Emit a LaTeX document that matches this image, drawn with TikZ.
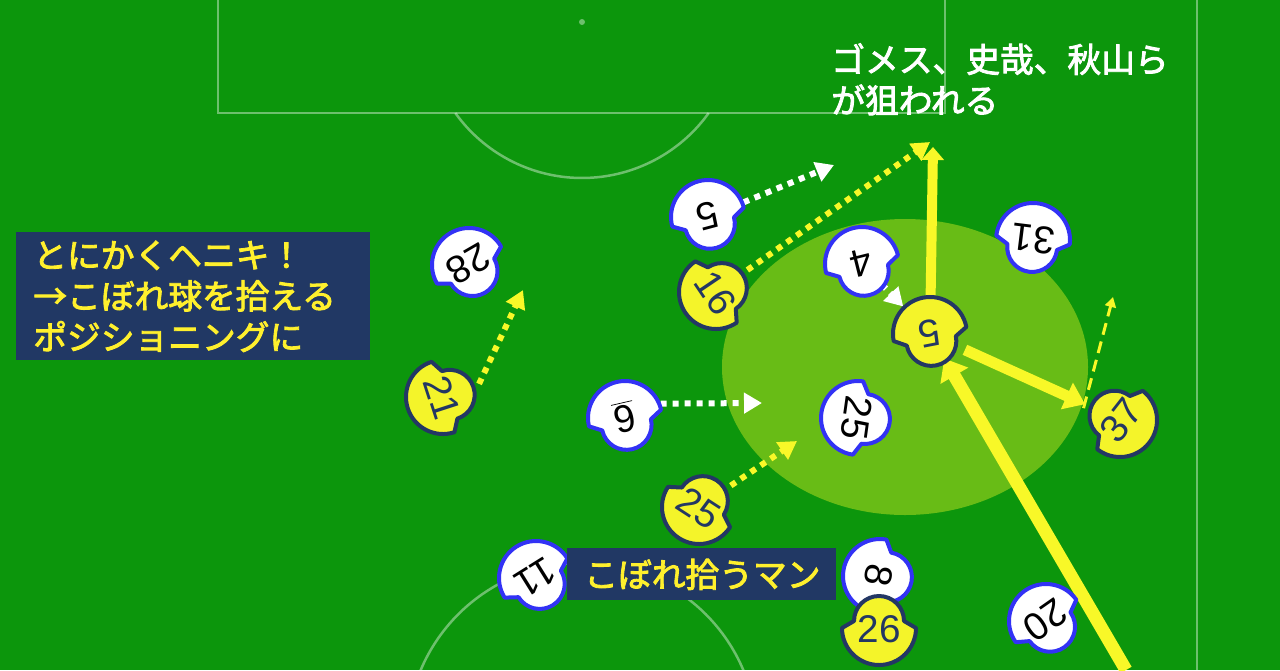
\documentclass[tikz,border=0pt]{standalone}
\usepackage{fontspec}
\setmainfont{Liberation Sans}
\newfontfamily\jpfont[FakeBold=2.6]{Noto Sans CJK JP}
\usetikzlibrary{arrows.meta}
\usetikzlibrary{positioning}

\definecolor{grass}{RGB}{12,150,12}
\definecolor{zone}{RGB}{104,188,22}
\definecolor{navybox}{RGB}{33,56,100}
\definecolor{markyellow}{RGB}{244,244,42}
\definecolor{arrowyellow}{RGB}{248,248,40}
\definecolor{textyellow}{RGB}{255,240,45}
\definecolor{teamblue}{RGB}{50,50,245}
\definecolor{teamnavy}{RGB}{35,55,100}

\begin{document}
\begin{tikzpicture}[x=0.02cm,y=0.02cm,>={Triangle[length=0.36cm,width=0.4cm]},
			font=\jpfont]
			\tikzstyle{spot}=[circle,minimum size=1.52cm,inner sep=0pt]
			\tikzstyle{pitchline}=[draw=white,draw opacity=0.4,line width=0.05cm]
			\tikzstyle{run}=[->,line width=0.12cm,dash pattern=on 0.12cm off 0.12cm]
			\tikzstyle{pass}=[->,arrowyellow,line width=0.2cm,>={Triangle[length=0.26cm,width=0.44cm]}]
			\tikzstyle{bigpass}=[->,arrowyellow,line width=0.26cm,>={Triangle[length=0.4cm,width=0.62cm]}]
			\tikzstyle{feint}=[->,arrowyellow,line width=0.06cm,dash pattern=on 0.24cm off 0.14cm,>={Triangle[length=0.2cm,width=0.22cm]}]
			\tikzstyle{yelteam}=[fill=markyellow,draw=teamnavy]
			\tikzstyle{yelteam num}=[text=teamnavy]
			\tikzstyle{whiteteam}=[fill=white,draw=teamblue]
			\tikzstyle{whiteteam num}=[text=black]
			\tikzstyle{notebox}=[fill=navybox,text=textyellow,inner xsep=0.34cm,inner ysep=0pt,align=left,
			font=\jpfont\fontsize{19.2}{23.3}\selectfont]
			\tikzset{pics/player/.style n args={3}{code={
						\begin{scope}[rotate=#2]
							\filldraw[#1,line width=0.08cm,line join=round]
							(-37,0) -- (-25,7) arc[start angle=180,end angle=0,radius=25]
							-- (37,0) arc[start angle=0,end angle=-180,radius=37] -- cycle;
							\node[#1 num,transform shape,inner sep=0pt,font=\rmfamily\fontsize{22}{26}\selectfont] at (0,-1) {#3};
						\end{scope}
			}}}
			
			% pitch
			\fill[grass] (0,-670) rectangle (1280,0);
			\useasboundingbox (0,-670) rectangle (1280,0);
			\draw[pitchline] (218,0) -- (218,-113) -- (945,-113) -- (945,0);
			\draw[pitchline] (582,-22) ++(-144.3:156) arc[start angle=-144.3,end angle=-35.7,radius=156];
			\fill[white,opacity=0.4] (582,-22) circle[radius=3];
			\draw[pitchline] (1197,0) -- (1197,-670);
			\draw[pitchline] (582,-738) circle[radius=175];
			
			% second ball zone
			\fill[zone] (905,-367) ellipse[x radius=183,y radius=148];
			
			% players
			\node[spot]         (w5)   at (708,-217)  {};
			\node[spot]         (y16)  at (716,-292)  {};
			\node[spot]         (y21)  at (443,-397)  {};
			\node[spot]         (w28)  at (469,-265)  {};
			\node[spot]         (w6)   at (625,-418)  {};
			\node[spot]         (w4)   at (862,-264)  {};
			\node[spot]         (w31)  at (1033,-240) {};
			\node[spot]         (y5)   at (930,-334)  {};
			\node[spot]         (w25)  at (858,-418)  {};
			\node[spot]         (y37)  at (1120,-420) {};
			\node[spot]         (y25)  at (699,-507)  {};
			\node[spot]         (w11)  at (536,-578)  {};
			\node[spot]         (w8)   at (880,-576)  {};
			\node[spot]         (y26)  at (879,-628)  {};
			\node[spot]         (w20)  at (1046,-621) {};
			
			\coordinate (w5run)   at (834,-165);
			\coordinate (y16run)  at (930,-142);
			\coordinate (y5up)    at (933,-147);
			\coordinate (w6run)   at (762,-403);
			\coordinate (y25run)  at (797,-441);
			\coordinate (y21run)  at (523,-290);
			\coordinate (y37run)  at (1113,-297);
			\coordinate (longball) at (1126,-670);
			
			% movements
			\draw[run,white]       (w5) -- (w5run);
			\draw[run,arrowyellow] (y16) -- (y16run);
			\draw[run,white]       (w6.22) -- (w6run);
			\draw[run,arrowyellow] (y25) -- (y25run);
			\draw[run,arrowyellow] (y21.20) -- (y21run);
			\draw[run,white,shorten <=-0.2cm] (w4) -- (y5);
			\draw[feint]           (y37.162) -- (y37run);
			\draw[pass]            (y5) -- (y5up);
			\draw[pass,line width=0.22cm,>={Triangle[length=0.4cm,width=0.56cm]}] (y5) -- (y37);
			\draw[bigpass,shorten >=-0.2cm] (longball) -- (y5);
			
			\pic at (w5)  {player={whiteteam}{195}{5}};
			\pic at (y16) {player={yelteam}{-56}{16}};
			\pic at (y21) {player={yelteam}{-72}{21}};
			\pic at (w28) {player={whiteteam}{210}{28}};
			\pic at (w6)  {player={whiteteam}{193}{\underline{6}}};
			\pic at (w4)  {player={whiteteam}{194}{4}};
			\pic at (w31) {player={whiteteam}{173}{31}};
			\pic at (y5)  {player={yelteam}{191}{5}};
			\pic at (w25) {player={whiteteam}{-98}{25}};
			\pic at (y37) {player={yelteam}{52}{37}};
			\pic at (y25) {player={yelteam}{-33}{25}};
			\pic at (w11) {player={whiteteam}{212}{11}};
			\pic at (w8)  {player={whiteteam}{-100}{8}};
			\pic at (y26) {player={yelteam}{0}{26}};
			\pic at (w20) {player={whiteteam}{215}{20}};
			
			% notes
			\node[notebox,text width=6.4cm,minimum height=2.56cm,anchor=north west] (hint) at (16,-232)
			{とにかくヘニキ！\\→こぼれ球を拾える\\ポジショニングに};
			\node[notebox,text width=4.7cm,minimum height=1.04cm,anchor=north west] (scrapper) at (567,-548)
			{こぼれ拾うマン};
			\node[anchor=north west,inner sep=0pt,text=white,align=left,
			font=\jpfont\fontsize{19.2}{23.3}\selectfont] (targets) at (831,-43)
			{ゴメス、史哉、秋山ら\\が狙われる};
\end{tikzpicture}
\end{document}
